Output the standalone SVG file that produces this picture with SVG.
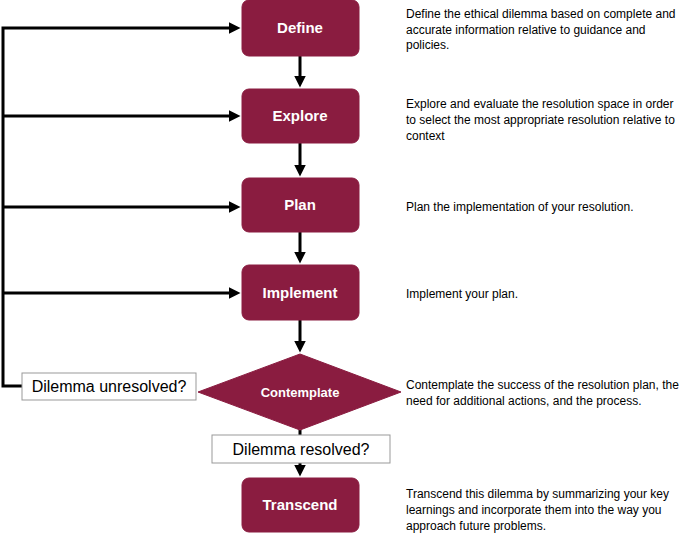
<svg xmlns="http://www.w3.org/2000/svg" width="685" height="533" viewBox="0 0 685 533">
<style>
.n{fill:#8a1c40;stroke:#8a1c40}
.t{font-family:"Liberation Sans",Arial,sans-serif;font-weight:bold;fill:#fff;font-size:15px;text-anchor:middle}
.d{font-family:"Liberation Sans",Arial,sans-serif;font-size:12px;fill:#000}
.l{font-family:"Liberation Sans",Arial,sans-serif;font-size:16px;fill:#000;text-anchor:middle}
.c{stroke:#000;stroke-width:3;fill:none}
</style>
<defs><marker id="a" markerWidth="4" markerHeight="4" refX="2.5" refY="2" orient="auto"><path d="M0,0L4,2L0,4z" fill="#000"/></marker></defs>
<rect width="685" height="533" fill="#fff"/>
<g id="connectors">
<path class="c" d="M22,386H3V28H236" marker-end="url(#a)"/>
<path class="c" d="M3,116H236" marker-end="url(#a)"/>
<path class="c" d="M3,207H236" marker-end="url(#a)"/>
<path class="c" d="M3,293H236" marker-end="url(#a)"/>
<path class="c" d="M300,56V83" marker-end="url(#a)"/>
<path class="c" d="M300,143V172" marker-end="url(#a)"/>
<path class="c" d="M300,232V259" marker-end="url(#a)"/>
<path class="c" d="M300,320V348" marker-end="url(#a)"/>
<path class="c" d="M300,430V472" marker-end="url(#a)"/>
</g>
<g id="define"><rect class="n" x="242" y="0" width="117" height="56" rx="7"/><text class="t" x="300" y="33">Define</text>
<text class="d" x="406" y="18">Define the ethical dilemma based on complete and</text><text class="d" x="406" y="34">accurate information relative to guidance and</text><text class="d" x="406" y="49">policies.</text></g>
<g id="explore"><rect class="n" x="242" y="89" width="117" height="54" rx="7"/><text class="t" x="300" y="121">Explore</text>
<text class="d" x="406" y="108">Explore and evaluate the resolution space in order</text><text class="d" x="406" y="124">to select the most appropriate resolution relative to</text><text class="d" x="406" y="140">context</text></g>
<g id="plan"><rect class="n" x="242" y="178" width="117" height="54" rx="7"/><text class="t" x="300" y="210">Plan</text>
<text class="d" x="406" y="211">Plan the implementation of your resolution.</text></g>
<g id="implement"><rect class="n" x="242" y="265" width="117" height="55" rx="7"/><text class="t" x="300" y="298">Implement</text>
<text class="d" x="406" y="298">Implement your plan.</text></g>
<g id="contemplate"><path class="n" d="M300,354L401,392L300,430L198,392z"/><text class="t" x="300" y="397" style="font-size:13px">Contemplate</text>
<text class="d" x="406" y="389">Contemplate the success of the resolution plan, the</text><text class="d" x="406" y="405">need for additional actions, and the process.</text></g>
<g id="unresolved"><rect x="22" y="373" width="174" height="27" fill="#fff" stroke="#999"/><text class="l" x="109" y="392">Dilemma unresolved?</text></g>
<g id="resolved"><rect x="212" y="435" width="178" height="28" fill="#fff" stroke="#999"/><text class="l" x="301" y="455">Dilemma resolved?</text></g>
<g id="transcend"><rect class="n" x="242" y="478" width="117" height="54" rx="7"/><text class="t" x="300" y="510">Transcend</text>
<text class="d" x="406" y="498">Transcend this dilemma by summarizing your key</text><text class="d" x="406" y="514">learnings and incorporate them into the way you</text><text class="d" x="406" y="530">approach future problems.</text></g>
</svg>
